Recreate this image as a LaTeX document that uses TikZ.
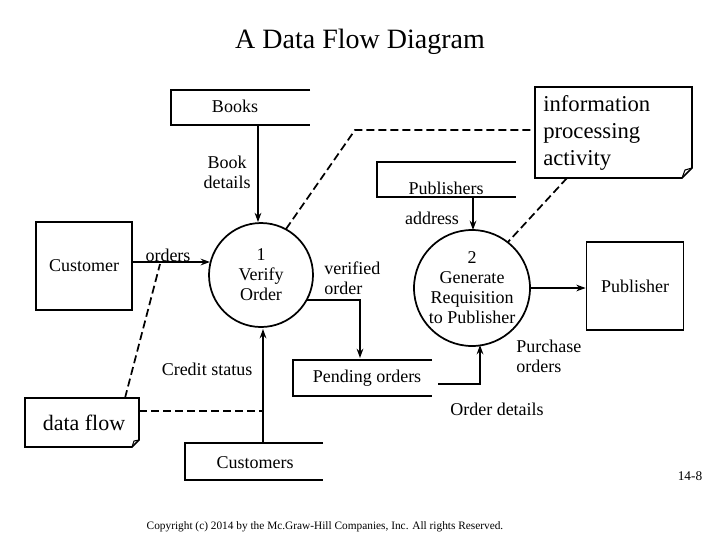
\documentclass[tikz,border=0pt]{standalone}
\usepackage{fontspec}
\setmainfont{Liberation Serif}
\usetikzlibrary{arrows.meta}
\begin{document}
\begin{tikzpicture}[x=0.75pt,y=-0.75pt,
  lab/.style={font=\fontsize{13.5}{15}\selectfont, inner sep=0pt, align=center},
  ln/.style={line width=1.3pt},
  fl/.style={ln,-{Stealth[length=7pt,width=5pt]}},
  dsh/.style={line width=1.3pt, dash pattern=on 6pt off 3pt},
  proc/.style={circle, draw, line width=1.3pt, inner sep=0pt, font=\fontsize{13.5}{15}\selectfont, align=center}]
\useasboundingbox (0,0) rectangle (720,540);
\node[font=\fontsize{21}{24}\selectfont] (title) at (360,42) {A Data Flow Diagram};
% Books store
\draw[ln] (310,90) -- (171,90) -- (171,125) -- (310,125);
\node[lab] (books) at (235,106) {Books};
\coordinate (bk) at (258,125);
% process 1
\node[proc, minimum size=104pt*0.75] (p1) at (261,275) {1\\Verify\\Order};
\draw[fl] (bk) -- (p1.north -| bk);
\node[lab] (bd) at (227,172) {Book\\details};
% Customer
\node[draw, ln, minimum width=96*0.75pt, minimum height=88*0.75pt, lab] (cust) at (84,266) {Customer};
\draw[fl] (cust.east |- 0,262) coordinate (ce) -- (210,262) coordinate (p1w);
\node[lab] (ord) at (168,255) {orders};
% data flow note
\draw[ln] (25,398) -- (139,398) -- (139,440) -- (132,447) -- (25,447) -- cycle;
\draw[line width=0.8pt] (139,440) -- (134,441) -- (132,447);
\node[font=\fontsize{16.5}{18}\selectfont] (df) at (84,423) {data flow};
\coordinate (dftop) at (125,398);
\coordinate (dfr) at (139,411);
\draw[dsh] (dftop) -- (160,264);
\draw[dsh] (dfr) -- (263,411);
% Customers store
\draw[ln] (323,443) -- (185,443) -- (185,480) -- (323,480);
\node[lab] (custs) at (255,463) {Customers};
\coordinate (cs) at (263,443);
\draw[fl] (cs) -- (263,329);
\node[lab] (cr) at (207,369) {Credit status};
% info note
\draw[ln] (535,87) -- (692,87) -- (692,168) -- (682,178) -- (535,178) -- cycle;
\draw[line width=0.8pt] (692,168) -- (685,170) -- (682,178);
\node[font=\fontsize{17}{20}\selectfont, align=left, anchor=west, inner sep=0pt] (info) at (543,133) {information\\processing\\activity};
\draw[dsh] (286,229) -- (355,130) -- (535,130);
\draw[dsh] (567,178) -- (508,242);
% Publishers store
\draw[ln] (516,162) -- (377,162) -- (377,197) -- (516,197);
\node[lab] (pubs) at (446,188) {Publishers};
\node[lab] (addr) at (432,218) {address};
% process 2
\node[proc, minimum size=116pt*0.75] (p2) at (472,288) {2\\Generate\\Requisition\\to Publisher};
\draw[fl] (473,197) -- (473,230);
% verified order
\draw[fl] (307,300) -- (360,300) -- (360,358);
\node[lab, align=left, anchor=west] (vo) at (324,278) {verified\\order};
% Pending orders
\draw[ln] (432,360) -- (293,360) -- (293,396) -- (432,396);
\node[lab] (pend) at (367,378) {Pending orders};
\draw[fl] (438,384) -- (480,384) -- (480,345);
\node[lab] (od) at (497,409) {Order details};
\node[lab, align=left, anchor=west] (po) at (516,356) {Purchase\\orders};
% Publisher
\node[draw, ln, minimum width=97*0.75pt, minimum height=88*0.75pt, lab] (pub) at (635,286) {Publisher};
\draw[fl] (p2.east |- 0,288) -- (pub.west |- 0,288);
\node[font=\fontsize{10}{12}\selectfont] (pg) at (690,476) {14-8};
\node[font=\fontsize{8.5}{10}\selectfont] (cp) at (325,527) {Copyright (c) 2014 by the Mc.Graw-Hill Companies, Inc. All rights Reserved.};
\end{tikzpicture}
\end{document}
